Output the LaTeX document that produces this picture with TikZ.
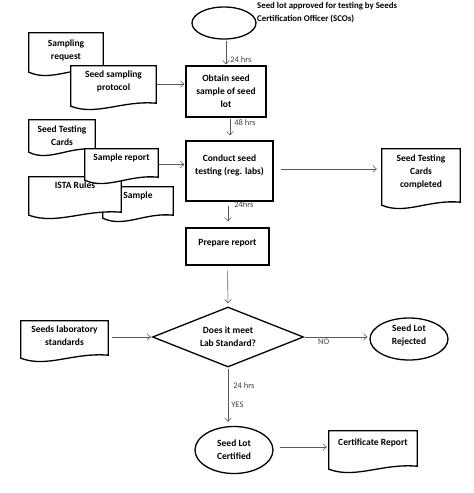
\documentclass[tikz,border=0pt]{standalone}
\usepackage{fontspec}
\setmainfont{Carlito}
\usetikzlibrary{shapes.geometric, arrows.meta, calc, backgrounds}

\newcommand{\boxfont}{\fontsize{9.5}{13}\selectfont\bfseries}
\newcommand{\lblfont}{\fontsize{8.5}{10}\selectfont}
\newcommand{\toplblfont}{\fontsize{8.8}{13}\selectfont\bfseries}

% wavy-bottom outline for a document node, kept behind the text
\newcommand{\docframe}[1]{%
  \begin{pgfonlayer}{background}
    \draw[docline] (#1.north west) -- (#1.south west)
      .. controls ($(#1.south west)!0.3!(#1.south east)+(0,-10pt)$)
      and ($(#1.south west)!0.6!(#1.south east)+(0,6pt)$)
      .. ($(#1.south east)+(0,3pt)$) -- (#1.north east) -- cycle;
  \end{pgfonlayer}}

\begin{document}
\begin{tikzpicture}[
        x=1pt, y=-1pt,
        proc/.style={rectangle, draw, line width=1.3pt, align=center, inner sep=2pt, font=\boxfont},
        doc/.style={rectangle, inner sep=2pt, align=center, font=\boxfont},
        docline/.style={line width=1.3pt, fill=white},
        term/.style={ellipse, draw, line width=1.3pt, inner sep=0pt, align=center, font=\boxfont},
        dec/.style={diamond, draw, line width=1.3pt, aspect=2.5, inner sep=0pt, align=center, font=\boxfont},
        arr/.style={->, draw=black!65, line width=0.6pt, shorten <=1pt, shorten >=1pt},
        lbl/.style={font=\lblfont, text=black!75, inner sep=2pt},
        >={Straight Barb[length=3.5pt, width=6.5pt]}
    ]
    \useasboundingbox (0,0) rectangle (474,493);

    % Start
    \node[term, minimum width=64pt, minimum height=32pt] (start) at (224,23) {};
    \node[anchor=north west, inner sep=0pt, align=left, font=\toplblfont] (startlbl) at (257,2)
        {Seed lot approved for testing by Seeds\\Certification Officer (SCOs)};

    % Sampling inputs
    \node[doc, minimum width=74pt, minimum height=39pt, text depth=6pt] (sampreq) at (66,52.5) {Sampling\\request};
    \docframe{sampreq}
    \node[doc, minimum width=85pt, minimum height=40pt, text depth=11pt] (protocol) at (113.5,86) {Seed sampling\\protocol};
    \docframe{protocol}

    \node[proc, minimum width=80pt, minimum height=51pt] (obtain) at (226,91.5) {Obtain seed\\sample of seed\\lot};

    % Testing inputs
    \node[doc, minimum width=66pt, minimum height=32pt] (stcards) at (62,136) {Seed Testing\\Cards};
    \docframe{stcards}
    \node[doc, minimum width=70pt, minimum height=31pt, text depth=15pt] (sample) at (138,202.5) {Sample};
    \docframe{sample}
    \node[doc, minimum width=92pt, minimum height=38pt, text depth=22pt] (ista) at (75,196) {ISTA Rules};
    \docframe{ista}
    \node[doc, minimum width=73pt, minimum height=31pt, text depth=15pt] (samprep) at (121.5,164.5) {Sample report};
    \docframe{samprep}

    \node[proc, minimum width=87pt, minimum height=60pt, text depth=13pt] (conduct) at (229.5,171) {Conduct seed\\testing (reg. labs)};
    \node[doc, minimum width=78pt, minimum height=56pt, text depth=12pt] (stcdone) at (421,177) {Seed Testing\\Cards\\completed};
    \docframe{stcdone}

    \node[proc, minimum width=83pt, minimum height=37pt, text depth=9pt] (prepare) at (227.5,246.5) {Prepare report};

    % Decision
    \node[dec, minimum width=151pt, minimum height=60pt] (meet) at (228,337) {Does it meet\\Lab Standard?};
    \node[doc, minimum width=87pt, minimum height=37pt, text depth=8pt] (labstd) at (64.5,339.5) {Seeds laboratory\\standards};
    \docframe{labstd}
    \node[term, minimum width=78pt, minimum height=42pt, text depth=9pt] (rejected) at (409,339) {Seed Lot\\Rejected};
    \node[term, minimum width=78pt, minimum height=47pt] (certified) at (234,450) {Seed Lot\\Certified};
    \node[doc, minimum width=88pt, minimum height=38pt, text depth=16pt] (certrep) at (373,450) {Certificate Report};
    \docframe{certrep}

    % Arrows
    \draw[arr] (start.south -| obtain) -- (obtain.north)
        node[lbl, right, xshift=2pt, pos=0.78] (hrsa) {24 hrs};
    \draw[arr] (protocol.east |- 0,84) -- (obtain.west |- 0,84);
    \draw[arr, shorten >=5pt] ([xshift=4pt]obtain.south) -- ([xshift=4pt]obtain.south |- conduct.north)
        node[lbl, right, xshift=2pt, pos=0.22] (hrsb) {48 hrs};
    \draw[arr] (samprep.east) -- (samprep.east -| conduct.west);
    \draw[arr, shorten <=7pt, shorten >=5pt] ([yshift=2pt]conduct.east) -- ([yshift=2pt]conduct.east -| stcdone.west);
    \draw[arr, shorten <=4pt, shorten >=6pt] ([xshift=-1.5pt]conduct.south) -- ([xshift=-1.5pt]conduct.south |- prepare.north)
        node[lbl, right, xshift=4pt, pos=0.1] (hrsc) {24hrs};
    \draw[arr, shorten <=5pt, shorten >=3pt] (prepare.south) -- (meet.north);
    \draw[arr, shorten <=4pt] (labstd.east |- meet.west) -- (meet.west);
    \draw[arr, shorten >=2pt] (meet.east) -- (meet.east -| rejected.west)
        node[lbl, below, pos=0.3] (no) {NO};
    \draw[arr, shorten >=4pt] (meet.south) -- (meet.south |- certified.north)
        node[lbl, right, xshift=3pt, pos=0.3] (hrsd) {24 hrs}
        node[lbl, right, xshift=1pt, pos=0.64] (yes) {YES};
    \draw[arr, shorten <=6pt, shorten >=2pt] ([yshift=3pt]certified.east) -- ([yshift=3pt]certified.east -| certrep.west);

\end{tikzpicture}
\end{document}
